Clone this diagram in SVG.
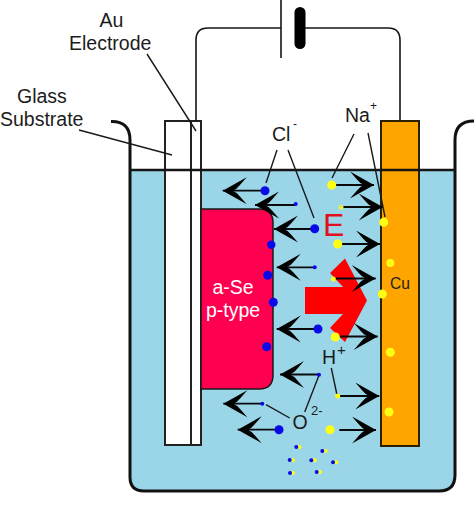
<svg xmlns="http://www.w3.org/2000/svg" width="474" height="518" viewBox="0 0 474 518">
<style>
text{font-family:"Liberation Sans",Arial,sans-serif;font-size:19.5px;fill:#1c1c1c}
.w{fill:#fff}
.o{fill:none;stroke:#151515;stroke-width:2}
.t{fill:none;stroke:#1a1a1a;stroke-width:1.4}
.s{fill:none;stroke:#0a0a0a;stroke-width:1.8;marker-end:url(#ah)}
.b{fill:#0a0ae8}
.y{fill:#ffff14}
.p{fill:#e4ee50}
</style>
<defs>
<marker id="ah" markerUnits="userSpaceOnUse" markerWidth="28" markerHeight="28" refX="26" refY="13.500" orient="auto">
<path d="M2,0 L26,13.500 L2,27 L9,19 Q12,15 16,13.500 Q12,12 9,8Z" fill="#000"/>
</marker>
</defs>
<rect width="474" height="518" fill="#fff"/>
<g id="tank">
<path d="M130,170H455V475Q455,491 439,491H144Q130,491 130,477Z" fill="#9ad6e8"/>
<path d="M111,121.500Q130,121 130,140V477Q130,491 144,491H439Q455,491 455,475V140Q455,121 474,121" fill="none" stroke="#111" stroke-width="3"/>
</g>
<g id="glass-substrate"><rect x="165" y="121" width="26" height="324" fill="#fff" stroke="#222" stroke-width="2"/></g>
<g id="au-electrode"><rect x="191" y="121" width="10" height="324" fill="#fff" stroke="#222" stroke-width="2"/></g>
<g id="a-se"><path d="M201,209H259Q273,209 273,223V375Q273,389 259,389H201Z" fill="#ff0050" stroke="#1a1a1a" stroke-width="1.500"/>
<text class="w" x="233" y="294" text-anchor="middle">a-Se</text>
<text class="w" x="233" y="317" text-anchor="middle">p-type</text></g>
<g id="cu"><rect x="381" y="121" width="38" height="325" fill="#ffa500" stroke="#2a2000" stroke-width="2"/>
<text x="390" y="289" style="font-size:15.600px">Cu</text></g>
<path id="water-line" d="M130,170H455" class="o" style="stroke-width:2.500"/>
<g id="battery">
<path d="M281,0V58" class="o" style="stroke-width:1.600"/>
<rect x="294.500" y="7" width="11" height="42" rx="5.500" fill="#000"/>
</g>
<g id="field"><polygon points="305,287 343,287 330,273 345,258.500 367,300.500 345,342 330,328 343,314 305,314" fill="#fe0000"/>
<text x="323" y="236" style="font-size:32px;fill:#e01020">E</text></g>
<g id="connectors">
<path d="M196,121V40Q196,28 208,28H281M305,28H388Q400,28 400,40V121" class="o" style="stroke-width:1.600"/>
<path d="M147,54L196,131M79,130L172,155M277,150L266,183M288,150L314,218M354,134L332,178M368,133L385,217M331.300,368L337,395M318.700,376L304.700,412M266,404.700L289.700,418" class="t"/>
<line class="s" x1="265" y1="190.700" x2="222.700" y2="190.700"/>
<line class="s" x1="295" y1="205" x2="255" y2="205"/>
<line class="s" x1="315" y1="229" x2="274" y2="229"/>
<line class="s" x1="315" y1="267.300" x2="276.700" y2="267.300"/>
<line class="s" x1="318" y1="329" x2="276.700" y2="329"/>
<line class="s" x1="319" y1="374.500" x2="280" y2="374.500"/>
<line class="s" x1="262" y1="403.700" x2="223.300" y2="403.700"/>
<line class="s" x1="279" y1="429.700" x2="237.700" y2="429.700"/>
<line class="s" x1="332" y1="185" x2="374" y2="185"/>
<line class="s" x1="341" y1="207" x2="382.700" y2="207"/>
<line class="s" x1="338" y1="244" x2="380" y2="244"/>
<line class="s" x1="333" y1="278.500" x2="375.700" y2="278.500"/>
<line class="s" x1="335" y1="336.500" x2="377.700" y2="336.500"/>
<line class="s" x1="338" y1="396" x2="379.300" y2="396"/>
<line class="s" x1="339.300" y1="430" x2="376" y2="430"/>
</g>
<g id="ions">
<circle class="b" cx="265" cy="190.700" r="4.500"/><circle class="b" cx="295.700" cy="204" r="2"/><circle class="b" cx="314.700" cy="228.700" r="4.500"/><circle class="b" cx="271.300" cy="244.700" r="4.200"/><circle class="b" cx="267.700" cy="275.300" r="4.500"/><circle class="b" cx="314.700" cy="267.300" r="2"/><circle class="b" cx="273.300" cy="302.300" r="4.500"/><circle class="b" cx="318" cy="329" r="4.500"/><circle class="b" cx="266.700" cy="346.700" r="4.500"/><circle class="b" cx="319" cy="374.700" r="2"/><circle class="b" cx="262.300" cy="403.700" r="2"/><circle class="b" cx="279" cy="429.700" r="4.500"/>
<circle class="y" cx="331.700" cy="185" r="4.500"/><circle class="p" cx="341" cy="207.300" r="2.500"/><circle class="y" cx="383.700" cy="222.300" r="4.500"/><circle class="y" cx="337.700" cy="244" r="4.500"/><circle class="y" cx="333.300" cy="279" r="2.500"/><circle class="y" cx="390.300" cy="263" r="4"/><circle class="y" cx="382.300" cy="294" r="4.500"/><circle class="y" cx="335.300" cy="337" r="4.500"/><circle class="y" cx="390.300" cy="352.300" r="4.500"/><circle class="y" cx="337.700" cy="396" r="2.500"/><circle class="y" cx="389" cy="412" r="4.500"/><circle class="y" cx="330" cy="429.700" r="4.500"/>
<circle class="y" cx="299.500" cy="447" r="2"/><circle class="y" cx="325.700" cy="451" r="2"/><circle class="y" cx="293" cy="460.300" r="2"/><circle class="y" cx="314.700" cy="460.300" r="2"/><circle class="y" cx="336.300" cy="462.300" r="2"/><circle class="y" cx="293" cy="473" r="2"/><circle class="y" cx="320" cy="472" r="2"/>
<circle class="b" cx="296.300" cy="447" r="2"/><circle class="b" cx="322.300" cy="451" r="2"/><circle class="b" cx="289.700" cy="460" r="2"/><circle class="b" cx="311.300" cy="460.300" r="2"/><circle class="b" cx="333" cy="462.300" r="2"/><circle class="b" cx="290" cy="473" r="2"/><circle class="b" cx="316.700" cy="472" r="2"/>
</g>
<g id="labels">
<text x="99.500" y="27">Au</text>
<text x="69" y="50">Electrode</text>
<text x="17" y="103">Glass</text>
<text x="0" y="126">Substrate</text>
<text x="272" y="141">Cl</text><text x="293" y="128" style="font-size:12px">-</text>
<text x="345" y="122">Na</text><text x="370" y="110" style="font-size:12px">+</text>
<text x="322" y="364">H</text><text x="337" y="355" style="font-size:15px">+</text>
<text x="292.500" y="429">O</text>
<text x="311" y="415" style="font-size:13px">2-</text>
</g>
</svg>
